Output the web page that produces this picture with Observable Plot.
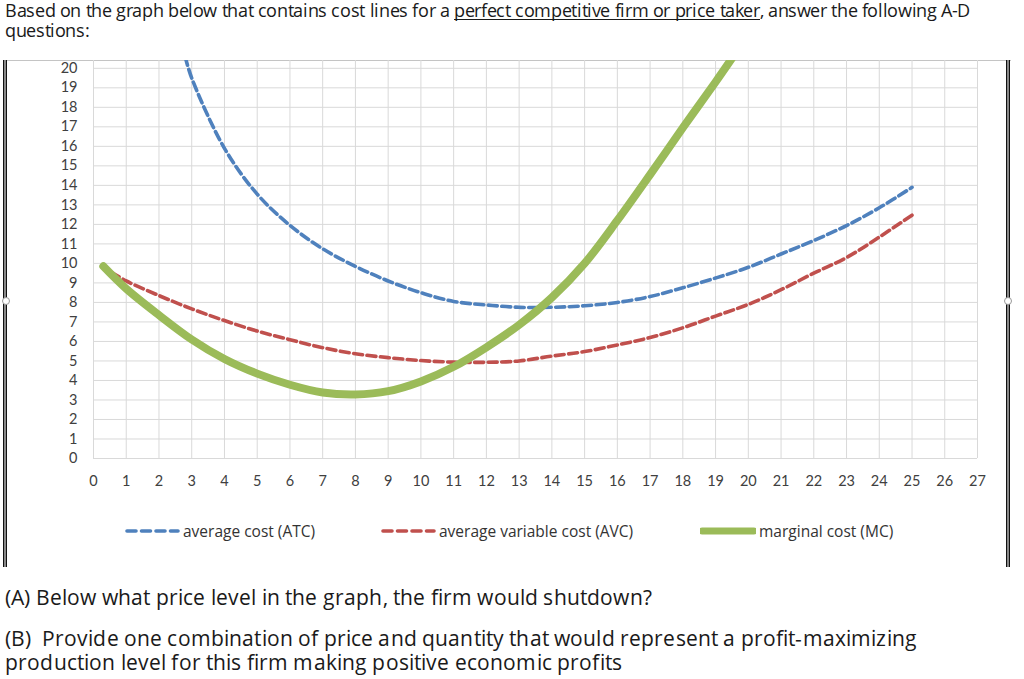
<!DOCTYPE html>
<html>
<head>
<meta charset="utf-8">
<script src="https://cdn.jsdelivr.net/npm/d3@7"></script>
<script src="https://cdn.jsdelivr.net/npm/@observablehq/plot@0.6"></script>
<style>
  @font-face {
    font-family: "OSTight";
    src: local("Open Sans"), local("Open Sans Regular"), local("OpenSans-Regular");
    ascent-override: 80%;
    descent-override: 20%;
    line-gap-override: 0%;
  }
  html, body { margin: 0; padding: 0; background: #fff; }
  body { width: 1024px; height: 679px; position: relative; overflow: hidden; font-family: "OSTight", "Open Sans", sans-serif; color: #1a1a1a; }
  #header { position: absolute; left: 5px; top: 1.6px; font-size: 17.5px; line-height: 20px; white-space: nowrap; }
  #uline { position: absolute; height: 1.3px; background: #1a1a1a; }
  #frame { position: absolute; left: 3px; top: 60px; width: 1008px; height: 507px; border-top: 1px solid #c4c4c4; box-sizing: border-box; }
  .bar { position: absolute; top: 60px; height: 507px; width: 4px; border-left: 1.5px solid #111; border-right: 1.5px solid #111; background: #888; box-sizing: border-box; }
  .handle { position: absolute; width: 8px; height: 8px; border: 1.5px solid #999; border-radius: 50%; background: #fff; box-sizing: border-box; }
  #chart { position: absolute; left: 0; top: 60px; }
  .leg { position: absolute; top: 519.5px; height: 22px; display: flex; align-items: center; font-family: "Open Sans", sans-serif; font-size: 15.5px; color: #333; white-space: nowrap; }
  .leg svg { display: block; margin-right: 3px; }
  #qA { position: absolute; left: 5px; top: 586.9px; font-size: 21.3px; line-height: 24px; white-space: nowrap; }
  #qB { position: absolute; left: 5px; top: 627.9px; font-size: 21.3px; line-height: 24.4px; white-space: nowrap; }
</style>
</head>
<body>
<div id="header">Based on the graph below that contains cost lines for a perfect competitive firm or price taker, answer the following A-D<br>questions:</div>
<div id="uline"></div>
<div id="frame"></div>
<div id="chart"></div>
<div class="bar" style="left:3px"></div>
<div class="bar" style="left:1006px"></div>
<div class="handle" style="left:2px; top:297px"></div>
<div class="handle" style="left:1004px; top:297px"></div>
<div id="legend"></div>
<div id="qA">(A) Below what price level in the graph, the firm would shutdown?</div>
<div id="qB">(B)&nbsp; Provide one combination of price and quantity that would represent a profit-maximizing<br>production level for this firm making positive economic profits</div>
<script>
// ---- data ----
const xTicks = d3.range(0, 28);
const yTicks = d3.range(0, 21);

const seriesNames = ["average cost (ATC)", "average variable cost (AVC)", "marginal cost (MC)"];
const seriesColors = ["#4F81BD", "#C0504D", "#9BBB59"];

const qATC = [2.8, 3, 4, 5, 6, 7, 8, 9, 10, 11, 12, 13, 14, 15, 16, 17, 18, 19, 20, 21, 22, 23, 24, 25];
const atc  = [20.6, 19.5, 15.9, 13.55, 11.95, 10.75, 9.85, 9.1, 8.5, 8.05, 7.87, 7.75, 7.75, 7.83, 8.0, 8.3, 8.75, 9.25, 9.8, 10.48, 11.17, 11.94, 12.85, 13.9];

const qAVC = [0.55, 1, 2, 3, 4, 5, 6, 7, 8, 9, 10, 11, 12, 13, 14, 15, 16, 17, 18, 19, 20, 21, 22, 23, 24, 25];
const avc  = [9.55, 9.1, 8.35, 7.67, 7.07, 6.53, 6.09, 5.68, 5.37, 5.17, 5.02, 4.94, 4.93, 5.0, 5.25, 5.48, 5.82, 6.2, 6.7, 7.3, 7.9, 8.65, 9.5, 10.3, 11.35, 12.47];

const qMC = [0.3, 1, 2, 3, 4, 5, 6, 7, 8, 9, 10, 11, 12, 13, 14, 15, 16, 17, 18, 19, 19.7];
const mc  = [9.85, 8.7, 7.35, 6.1, 5.1, 4.35, 3.78, 3.38, 3.28, 3.45, 3.95, 4.7, 5.7, 6.85, 8.25, 10.0, 12.2, 14.55, 16.95, 19.3, 21.0];

const atcData = qATC.map((q, i) => ({q, v: atc[i]}));
const avcData = qAVC.map((q, i) => ({q, v: avc[i]}));
const mcData  = qMC.map((q, i) => ({q, v: mc[i]}));

const chart = Plot.plot({
  width: 1024,
  height: 430,
  marginLeft: 93,
  marginRight: 47,
  marginTop: 0,
  marginBottom: 32,
  style: { fontFamily: "Lato, 'Open Sans', sans-serif", fontSize: "14.5px", color: "#404040", background: "transparent", overflow: "hidden" },
  x: { domain: [0, 27] },
  y: { domain: [0, 20.4] },
  marks: [
    Plot.gridX(xTicks, { stroke: "#d9d9d9", strokeOpacity: 1, strokeWidth: 1 }),
    Plot.gridY(yTicks, { stroke: "#d9d9d9", strokeOpacity: 1, strokeWidth: 1 }),
    Plot.axisX(xTicks, { tickSize: 0, tickPadding: 17, label: null, color: "#404040", fontSize: 14.5 }),
    Plot.axisY(yTicks, { tickSize: 0, tickPadding: 16, label: null, color: "#404040", fontSize: 14.5 }),
    Plot.line(avcData, { x: "q", y: "v", stroke: seriesColors[1], strokeWidth: 3.6, strokeDasharray: "9,4.5", curve: "catmull-rom", clip: true }),
    Plot.line(atcData, { x: "q", y: "v", stroke: seriesColors[0], strokeWidth: 3.6, strokeDasharray: "9,4.5", curve: "catmull-rom", clip: true }),
    Plot.line(mcData,  { x: "q", y: "v", stroke: seriesColors[2], strokeWidth: 8, strokeLinecap: "round", curve: "catmull-rom", clip: true })
  ]
});
document.getElementById("chart").appendChild(chart);

// ---- legend ----
const legendPos = [125, 381, 700];
const legend = document.getElementById("legend");
seriesNames.forEach((name, i) => {
  const div = document.createElement("div");
  div.className = "leg";
  div.style.left = legendPos[i] + "px";
  const dashed = i < 2;
  const w = dashed ? 55 : 56;
  div.innerHTML = `<svg width="${w}" height="10"><line x1="2" y1="5" x2="${w - 2}" y2="5" stroke="${seriesColors[i]}" stroke-width="${dashed ? 3.6 : 7}" stroke-linecap="round" ${dashed ? 'stroke-dasharray="9,5.5"' : ''}/></svg><span>${name}</span>`;
  legend.appendChild(div);
});

// ---- fit the first line of a text block to the reference's right edge via letter-spacing ----
function lineRight(el) {
  const node = el.firstChild;
  const range = document.createRange();
  range.setStart(node, 0);
  range.setEnd(node, node.textContent.length);
  return { right: range.getBoundingClientRect().right, n: node.textContent.length };
}
function fit(id, targetRight) {
  const el = document.getElementById(id);
  el.style.letterSpacing = "0px";
  const m = lineRight(el);
  const ls = (targetRight - m.right) / m.n;
  el.style.letterSpacing = ls.toFixed(3) + "px";
}
function layoutText() {
  fit("header", 970);
  fit("qA", 652);
  fit("qB", 917);
  const header = document.getElementById("header");
  const node = header.firstChild;
  const phrase = "perfect competitive firm or price taker";
  const start = node.textContent.indexOf(phrase);
  const range = document.createRange();
  range.setStart(node, start);
  range.setEnd(node, start + phrase.length);
  const r = range.getBoundingClientRect();
  const u = document.getElementById("uline");
  u.style.left = r.left + "px";
  u.style.width = r.width + "px";
  u.style.top = "18.5px";
}
layoutText();
if (document.fonts && document.fonts.ready) document.fonts.ready.then(layoutText);
</script>
</body>
</html>
